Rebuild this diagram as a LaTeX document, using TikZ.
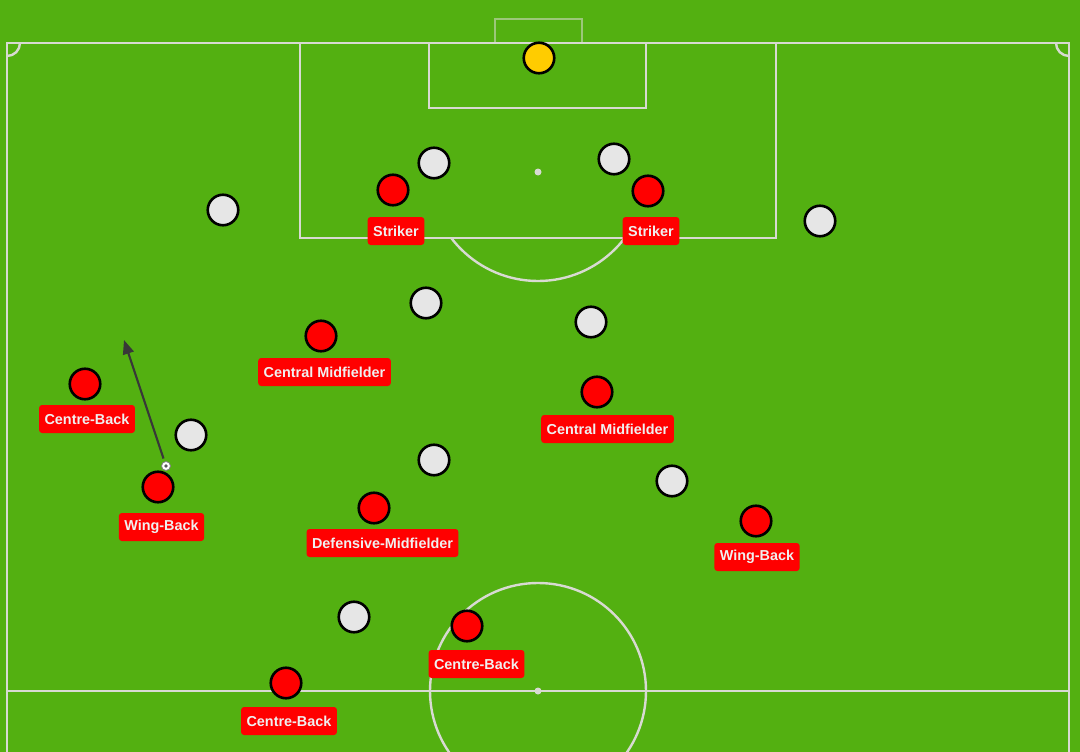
\documentclass[tikz,border=0pt]{standalone}
\usepackage{fontspec}
\setsansfont{Liberation Sans}
\usetikzlibrary{arrows.meta}

\definecolor{pitchgreen}{HTML}{53B011}
\definecolor{chalk}{HTML}{D8DAD2}
\definecolor{keeper}{HTML}{FFCC00}
\definecolor{awayteam}{HTML}{E6E6E6}
\definecolor{hometeam}{HTML}{FF0000}
\definecolor{runline}{HTML}{383838}

\begin{document}
\begin{tikzpicture}[x=1pt, y=-1pt,
    chalkline/.style={chalk, line width=2.4pt},
    player/.style={circle, draw=black, line width=2.6pt, minimum size=30.5pt, inner sep=0pt},
    role/.style={fill=hometeam, rounded corners=3pt, text=white!94!black,
        font=\sffamily\bfseries\fontsize{14.4}{16}\selectfont,
        inner xsep=5.5pt, inner ysep=0pt, minimum height=28pt}]

    % Grass
    \useasboundingbox (0,0) rectangle (1080,752);
    \fill[pitchgreen] (0,0) rectangle (1080,752);

    % Pitch markings
    \begin{scope}
        \clip (0,0) rectangle (1080,752);
        \draw[chalkline] (7,752) -- (7,43) -- (1069,43) -- (1069,752);
        \draw[chalkline] (7,691) -- (1069,691);
        \draw[chalkline] (538,691) circle[radius=108];
        \fill[chalk] (538,691) circle[radius=3.5];
    \end{scope}
    \draw[chalkline, draw opacity=0.55] (495,43) -- (495,19) -- (582,19) -- (582,43);
    \draw[chalkline] (300,43) -- (300,238) -- (776,238) -- (776,43);
    \draw[chalkline] (429,43) -- (429,108) -- (646,108) -- (646,43);
    \fill[chalk] (538,172) circle[radius=3.5];

    % Penalty arc and corner arcs
    \begin{scope}
        \clip (400,239) rectangle (680,300);
        \draw[chalkline] (538,172) circle[radius=109];
    \end{scope}
    \begin{scope}
        \clip (7,43) rectangle (30,60);
        \draw[chalkline] (7,43) circle[radius=13];
    \end{scope}
    \begin{scope}
        \clip (1050,43) rectangle (1069,60);
        \draw[chalkline] (1069,43) circle[radius=13];
    \end{scope}

    % Goalkeeper
    \node[player, fill=keeper] (gk) at (539,58) {};

    % Opponents
    \foreach \x/\y [count=\i] in {434/163, 614/159, 223/210, 820/221, 426/303,
        591/322, 191/435, 434/460, 672/481, 354/617}
        \node[player, fill=awayteam] (opp\i) at (\x,\y) {};

    % Own team with roles
    \foreach \x/\y/\lx/\ly/\txt [count=\i] in {
        393/190/396/231/Striker,
        648/191/651/231/Striker,
        321/336/324.5/372/Central Midfielder,
        85/384/87/419/Centre-Back,
        597/392/607.5/429/Central Midfielder,
        158/487/161.5/527/Wing-Back,
        374/508/382.5/543/Defensive-Midfielder,
        756/521/757/557/Wing-Back,
        467/626/476.5/664/Centre-Back,
        286/683/289/721/Centre-Back}
    {
        \node[player, fill=hometeam] (p\i) at (\x,\y) {};
        \node[role] (r\i) at (\lx,\ly) {\txt};
    }

    % Ball and run
    \node[circle, fill=white, draw=gray, line width=0.8pt, minimum size=9pt, inner sep=0pt] (ball) at (166,466) {};
    \fill[gray!70!black] (ball) circle[radius=1.8];
    \coordinate (runend) at (124,340);
    \draw[runline, line width=2.2pt, -{Triangle[length=14pt, width=11pt]}, shorten <=3pt] (ball) -- (runend);
\end{tikzpicture}
\end{document}
